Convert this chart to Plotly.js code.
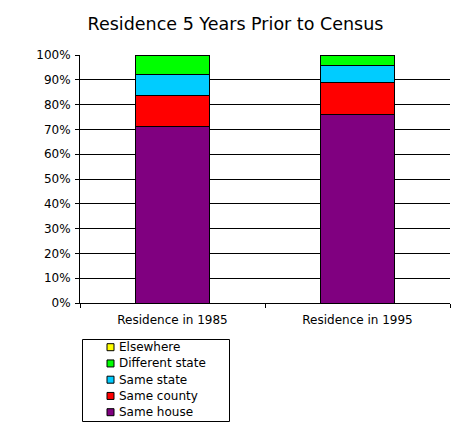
<!DOCTYPE html>
<html>
<head>
<meta charset="utf-8">
<script src="https://cdn.plot.ly/plotly-3.0.1.min.js"></script>
<style>
html,body{margin:0;padding:0;background:#fff;}
#chart{width:471px;height:427px;}
</style>
</head>
<body>
<div id="chart"></div>
<script>
var categories = ["Residence in 1985", "Residence in 1995"];
var seriesNames = ["Same house", "Same county", "Same state", "Different state", "Elsewhere"];
var sameHouse = [71.2, 76.1];
var sameCounty = [12.5, 12.9];
var sameState = [8.5, 6.8];
var differentState = [7.6, 3.8];
var elsewhere = [0.2, 0.4];
var seriesColors = ["#800080", "#FF0000", "#00CCFF", "#00FF00", "#FFFF00"];
var yTickVals = [0, 10, 20, 30, 40, 50, 60, 70, 80, 90, 100];
var yTickLabels = ["0%", "10%", "20%", "30%", "40%", "50%", "60%", "70%", "80%", "90%", "100%"];

var seriesValues = [sameHouse, sameCounty, sameState, differentState, elsewhere];
var traces = seriesValues.map(function (vals, i) {
  return {
    type: "bar",
    name: seriesNames[i],
    x: categories,
    y: vals,
    marker: { color: seriesColors[i], line: { color: "#000", width: 1 } },
    hoverinfo: "none"
  };
});

var font = "DejaVu Sans, Verdana, sans-serif";

// plot area in pixels (for placing the legend box below the plot)
var plotL = 80, plotR = 450, plotT = 55, plotB = 303;
function px2x(px) { return (px - plotL) / (plotR - plotL); }
function px2y(py) { return (plotB - py) / (plotB - plotT); }

// custom legend (Excel style): box, small squares, labels; top entry = last series
var shapes = [{
  type: "rect", xref: "paper", yref: "paper",
  x0: px2x(82.5), x1: px2x(229.5), y0: px2y(339.5), y1: px2y(421.5),
  line: { color: "#000", width: 1 }, fillcolor: "rgba(0,0,0,0)"
}];
var annotations = [];
for (var k = 0; k < seriesNames.length; k++) {
  var idx = seriesNames.length - 1 - k;
  var cy = 347.2 + k * 16.25;
  shapes.push({
    type: "rect", xref: "paper", yref: "paper",
    x0: px2x(107), x1: px2x(114), y0: px2y(cy - 3.5), y1: px2y(cy + 3.5),
    line: { color: "#000", width: 1 }, fillcolor: seriesColors[idx]
  });
  annotations.push({
    xref: "paper", yref: "paper", x: px2x(117), y: px2y(cy),
    xanchor: "left", yanchor: "middle", showarrow: false,
    text: seriesNames[idx],
    font: { family: font, size: 12, color: "#000" }
  });
}

var layout = {
  width: 471,
  height: 427,
  margin: { l: plotL, r: 471 - plotR, t: plotT, b: 427 - plotB },
  paper_bgcolor: "#fff",
  plot_bgcolor: "#fff",
  barmode: "stack",
  bargap: 0.6,
  showlegend: false,
  font: { family: font, size: 12, color: "#000" },
  title: {
    text: "Residence 5 Years Prior to Census",
    font: { family: font, size: 17.5, color: "#000" },
    x: 0.5, xref: "container", xanchor: "center",
    y: 0.9438, yref: "container", yanchor: "middle"
  },
  xaxis: {
    type: "category",
    showline: true, linecolor: "#000", linewidth: 1,
    ticks: "outside", tickson: "boundaries", ticklen: 4, tickcolor: "#000",
    ticklabelstandoff: 6,
    showgrid: false, zeroline: false,
    tickfont: { family: font, size: 12, color: "#000" }
  },
  yaxis: {
    range: [0, 100],
    tickmode: "array",
    tickvals: yTickVals,
    ticktext: yTickLabels,
    showline: true, linecolor: "#000", linewidth: 1,
    ticks: "outside", ticklen: 4, tickcolor: "#000",
    ticklabelstandoff: 2,
    showgrid: true, gridcolor: "#000", gridwidth: 1,
    zeroline: false,
    tickfont: { family: font, size: 12, color: "#000" }
  },
  shapes: shapes,
  annotations: annotations
};

Plotly.newPlot("chart", traces, layout, { staticPlot: true, displayModeBar: false });
</script>
</body>
</html>
